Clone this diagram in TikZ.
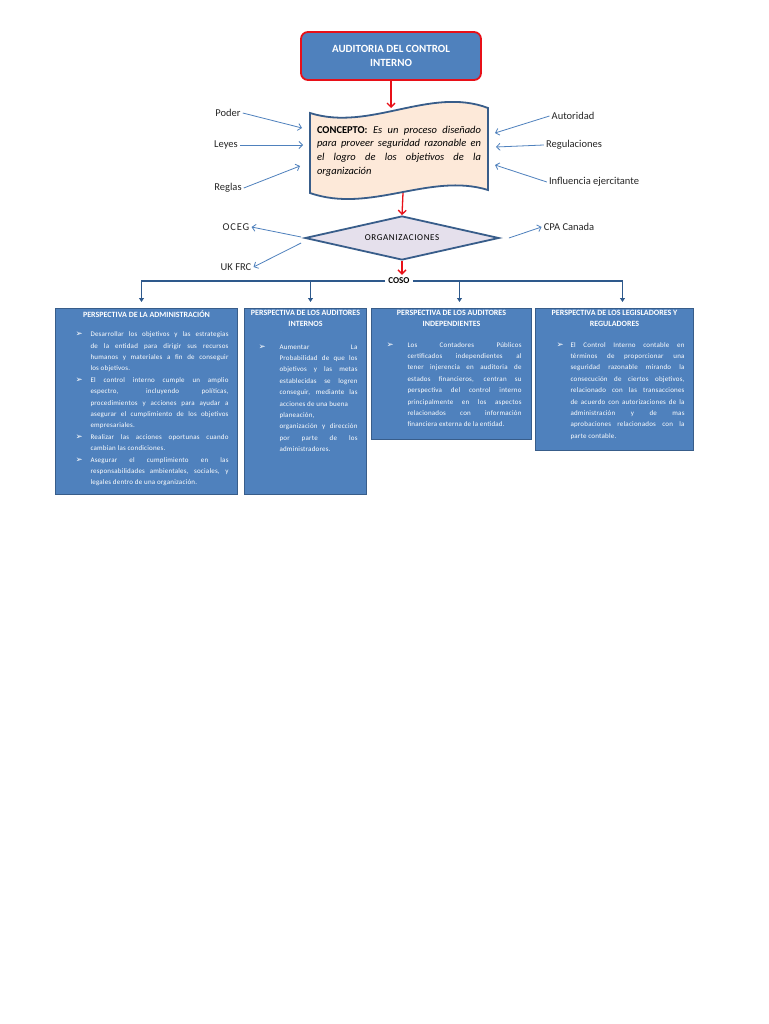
\documentclass[tikz,border=0pt]{standalone}
\usepackage{fontspec}
\setmainfont{Carlito}
\newfontfamily\bulfont{DejaVu Sans}
\usetikzlibrary{positioning,shapes.geometric,arrows.meta}

\definecolor{boxblue}{RGB}{79,129,189}
\definecolor{boxline}{RGB}{56,93,138}
\definecolor{peach}{RGB}{253,233,217}
\definecolor{lilac}{RGB}{229,224,236}
\definecolor{redline}{RGB}{232,16,24}
\definecolor{darkblue}{RGB}{46,89,140}

\tikzset{
  lbl/.style={font=\fontsize{10.5}{12}\selectfont, text=black!85, inner sep=2pt},
  thinarrow/.style={draw=boxblue, line width=0.8pt, -{Straight Barb[length=3.5pt,width=7pt]}},
  redarrow/.style={draw=redline, line width=1.3pt, -{Straight Barb[length=4pt,width=8pt]}},
  branch/.style={draw=darkblue, line width=1.3pt, -{Triangle[length=4pt,width=5pt]}},
  persp/.style={draw=boxline, fill=boxblue, line width=1pt, inner sep=0pt, text=white, anchor=north west}
}

\newcommand{\phead}[1]{{\centering\fontsize{8}{11}\selectfont\bfseries #1\par}}
\newcommand{\pbody}[2]{\fontsize{7}{11.4}\selectfont\addfontfeature{LetterSpace=3}%
  \leftskip=#1\rightskip=#2\parindent=0pt\tolerance=10000\hyphenpenalty=10000}
\newcommand{\pitem}[1]{\par\noindent\llap{\makebox[#1][l]{\bulfont\fontsize{8.5}{8.5}\selectfont\char"27A2}}}

\begin{document}
\begin{tikzpicture}[x=1pt,y=-1pt]
\useasboundingbox (0,0) rectangle (768,1024);
\fill[white] (0,0) rectangle (768,1024);

% titulo
\node[draw=redline, fill=boxblue, line width=1.8pt, rounded corners=7pt, minimum width=180pt,
  minimum height=48pt, align=center, text=white, font=\fontsize{11}{14}\selectfont\bfseries]
  (title) at (391,56) {AUDITORIA DEL CONTROL\\INTERNO};

% concepto
\filldraw[fill=peach, draw=boxline, line width=1.8pt] (310,113) .. controls (370,132) and (430,86) .. (488,108)
  -- (488,190) .. controls (430,172) and (370,214) .. (310,193) -- cycle;
\node[text width=164pt, align=justify, inner sep=0pt, font=\fontsize{10.5}{13.7}\selectfont]
  (concept) at (399,151) {\textbf{CONCEPTO:} \textit{Es un proceso diseñado\linebreak para proveer seguridad razonable en\linebreak el logro de los objetivos de la\linebreak organización}};
\coordinate (conTop) at (391,108);
\coordinate (conBot) at (403,193);
\draw[redarrow] (title.south) -- (conTop);

\node[lbl] (poder) at (228,113) {Poder};
\node[lbl] (leyes) at (226,145) {Leyes};
\node[lbl] (reglas) at (228,188) {Reglas};
\node[lbl] (autoridad) at (573,116) {Autoridad};
\node[lbl] (regul) at (574,145) {Regulaciones};
\node[lbl] (influ) at (594,182) {Influencia ejercitante};
\coordinate (toPoder) at (302,128);
\coordinate (toLeyes) at (303,145);
\coordinate (toReglas) at (300,166);
\coordinate (toAutoridad) at (495,133);
\coordinate (toRegul) at (496,147);
\coordinate (toInflu) at (495,165);
\draw[thinarrow] (poder.east) -- (toPoder);
\draw[thinarrow] (leyes.east) -- (toLeyes);
\draw[thinarrow] (reglas.east) -- (toReglas);
\draw[thinarrow] (autoridad.west) -- (toAutoridad);
\draw[thinarrow] (regul.west) -- (toRegul);
\draw[thinarrow] (influ.west) -- (toInflu);

% organizaciones
\node[diamond, aspect=4.4, minimum width=194pt, minimum height=44pt, inner sep=0pt, draw=boxline,
  fill=lilac, line width=1.8pt, font=\fontsize{9}{10}\selectfont\addfontfeature{LetterSpace=7}]
  (organiz) at (402,238) {ORGANIZACIONES};
\draw[redarrow] (conBot) -- (organiz.north);
\node[lbl, font=\fontsize{10.5}{12}\selectfont\addfontfeature{LetterSpace=8}] (oceg) at (236,227) {OCEG};
\node[lbl] (ukfrc) at (236,267) {UK FRC};
\node[lbl] (cpa) at (569,227) {CPA Canada};
\draw[thinarrow] ([xshift=-3pt,yshift=1pt]organiz.west) -- (oceg.east);
\draw[thinarrow] ([xshift=-3pt,yshift=-5pt]organiz.west) -- (ukfrc.east);
\draw[thinarrow] ([xshift=9pt]organiz.east) -- (cpa.west);

% coso
\node[fill=white, inner sep=3pt, font=\fontsize{9}{10}\selectfont\bfseries] (coso) at (399,281) {COSO};
\draw[redarrow] (organiz.south) -- (organiz.south |- coso.north);

% perspectivas
\node[persp] (persAdm) at (55,308) {\parbox[c][186pt][t]{182pt}{\vspace*{2pt}%
  \phead{PERSPECTIVA DE LA ADMINISTRACIÓN}\vspace{8pt}\pbody{35pt}{9pt}%
  \pitem{15pt}Desarrollar los objetivos y las estrategias\linebreak de la entidad para dirigir sus recursos\linebreak humanos y materiales a fin de conseguir\linebreak los objetivos.
  \pitem{15pt}El control interno cumple un amplio\linebreak espectro, incluyendo políticas,\linebreak procedimientos y acciones para ayudar a\linebreak asegurar el cumplimiento de los objetivos\linebreak empresariales.
  \pitem{15pt}Realizar las acciones oportunas cuando\linebreak cambian las condiciones.
  \pitem{15pt}Asegurar el cumplimiento en las\linebreak responsabilidades ambientales, sociales, y\linebreak legales dentro de una organización.\par}};
\node[persp] (persInt) at (244,308) {\parbox[c][186pt][t]{122pt}{\vspace*{2pt}%
  \phead{PERSPECTIVA DE LOS AUDITORES\\INTERNOS}\vspace{11pt}\pbody{35pt}{9pt}%
  \pitem{21pt}Aumentar La\linebreak Probabilidad de que los\linebreak objetivos y las metas\linebreak establecidas se logren\linebreak conseguir, mediante las\linebreak acciones de una buena\newline planeación,\newline organización y dirección\linebreak por parte de los\linebreak administradores.\par}};
\node[persp] (persInd) at (371,308) {\parbox[c][131pt][t]{160pt}{\vspace*{2pt}%
  \phead{PERSPECTIVA DE LOS AUDITORES\\INDEPENDIENTES}\vspace{9pt}\pbody{36pt}{10pt}%
  \pitem{21pt}Los Contadores Públicos\linebreak certificados independientes al\linebreak tener injerencia en auditoria de\linebreak estados financieros, centran su\linebreak perspectiva del control interno\linebreak principalmente en los aspectos\linebreak relacionados con información\linebreak financiera externa de la entidad.\par}};
\node[persp] (persLeg) at (535,308) {\parbox[c][142pt][t]{158pt}{\vspace*{2pt}%
  \phead{PERSPECTIVA DE LOS LEGISLADORES Y\\REGULADORES}\vspace{9pt}\pbody{35pt}{9pt}%
  \pitem{14pt}El Control Interno contable en\linebreak términos de proporcionar una\linebreak seguridad razonable mirando la\linebreak consecución de ciertos objetivos,\linebreak relacionado con las transacciones\linebreak de acuerdo con autorizaciones de la\linebreak administración y de mas\linebreak aprobaciones relacionados con la\linebreak parte contable.\par}};

\draw[branch] (coso.west) -| ([xshift=-5pt,yshift=6pt]persAdm.north);
\draw[branch] (coso.east) -| ([xshift=8pt,yshift=6pt]persLeg.north);
\draw[branch] ([xshift=5pt]persInt.north |- coso) -- ([xshift=5pt,yshift=6pt]persInt.north);
\draw[branch] ([xshift=8pt]persInd.north |- coso) -- ([xshift=8pt,yshift=6pt]persInd.north);
\end{tikzpicture}
\end{document}
